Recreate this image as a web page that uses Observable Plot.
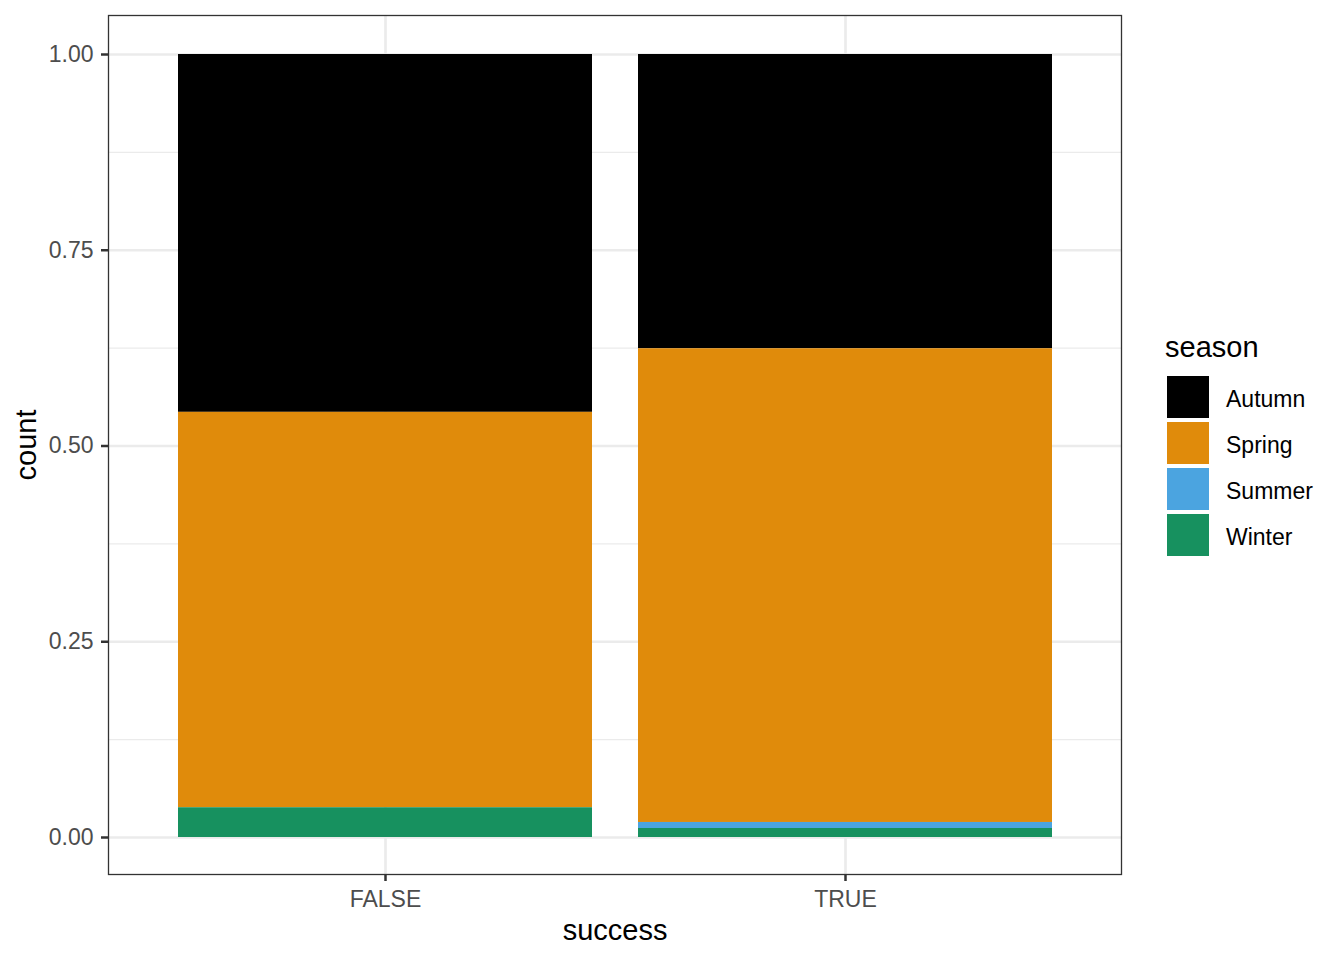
<!DOCTYPE html>
<html>
<head>
<meta charset="utf-8">
<script src="https://cdn.jsdelivr.net/npm/d3@7"></script>
<script src="https://cdn.jsdelivr.net/npm/@observablehq/plot@0.6"></script>
<style>
  html, body { margin: 0; padding: 0; background: #fff; }
  #wrap { position: relative; width: 1344px; height: 960px; font-family: "Liberation Sans", Arial, Helvetica, sans-serif; }
  #legend { position: absolute; left: 1165px; top: 330px; }
  .ltitle { position: absolute; left: 0; top: 0; font-size: 29px; line-height: 34px; color: #000; white-space: nowrap; }
  .lkey { position: absolute; width: 42px; height: 42px; left: 2px; }
  .llab { position: absolute; left: 61px; font-size: 23px; line-height: 42px; color: #000; white-space: nowrap; }
</style>
</head>
<body>
<div id="wrap"><div id="legend"></div></div>
<script>
// categories
const successLevels = ["FALSE", "TRUE"];
const seasons = ["Autumn", "Spring", "Summer", "Winter"];
const seasonColors = ["#000000", "#E08B0B", "#4BA4E0", "#17915F"];
// proportions (position = fill) per success level, in season order
const falseValues = [0.457, 0.505, 0.0, 0.038];
const trueValues = [0.3758, 0.605, 0.0077, 0.0115];
const majorTicks = [0, 0.25, 0.5, 0.75, 1];
const minorTicks = [0.125, 0.375, 0.625, 0.875];
const tickLabels = ["0.00", "0.25", "0.50", "0.75", "1.00"];

const data = [];
seasons.forEach((s, i) => {
  data.push({success: "FALSE", season: s, value: falseValues[i]});
  data.push({success: "TRUE", season: s, value: trueValues[i]});
});

const chart = Plot.plot({
  width: 1344,
  height: 960,
  marginLeft: 108,
  marginRight: 223,
  marginTop: 15,
  marginBottom: 86,
  style: {fontFamily: "Liberation Sans, Arial, Helvetica, sans-serif", fontSize: "23px", background: "#fff"},
  x: {domain: successLevels, paddingInner: 0.1, paddingOuter: 0.15, label: null},
  y: {domain: [-0.04725, 1.04981], label: null},
  color: {domain: seasons, range: seasonColors},
  marks: [
    Plot.gridY(minorTicks, {stroke: "#EBEBEB", strokeOpacity: 1, strokeWidth: 1.3}),
    Plot.gridY(majorTicks, {stroke: "#EBEBEB", strokeOpacity: 1, strokeWidth: 2.7}),
    Plot.gridX(successLevels, {stroke: "#EBEBEB", strokeOpacity: 1, strokeWidth: 2.7}),
    Plot.barY(data, Plot.stackY({
      x: "success",
      y: "value",
      fill: "season",
      order: ["Winter", "Summer", "Spring", "Autumn"]
    })),
    Plot.frame({stroke: "#333333", strokeWidth: 1.3}),
    Plot.axisY(majorTicks, {
      tickSize: 7, tickPadding: 8, strokeWidth: 2.5,
      stroke: "#333333", fill: "#4D4D4D",
      tickFormat: (d) => tickLabels[majorTicks.indexOf(d)],
      label: null
    }),
    Plot.axisX(successLevels, {
      tickSize: 7, tickPadding: 9, strokeWidth: 2.5,
      stroke: "#333333", fill: "#4D4D4D",
      label: null
    }),
    Plot.text(["success"], {frameAnchor: "bottom", dy: 56.5, fontSize: 29, fill: "#000", lineAnchor: "middle", textAnchor: "middle"}),
    Plot.text(["count"], {frameAnchor: "left", dx: -81.5, rotate: -90, fontSize: 29, fill: "#000", lineAnchor: "middle", textAnchor: "middle"})
  ]
});
document.getElementById("wrap").prepend(chart);

// legend
const legend = document.getElementById("legend");
const t = document.createElement("div");
t.className = "ltitle";
t.textContent = "season";
legend.appendChild(t);
seasons.forEach((s, i) => {
  const k = document.createElement("div");
  k.className = "lkey";
  k.style.top = (46 + i * 46) + "px";
  k.style.background = seasonColors[i];
  legend.appendChild(k);
  const l = document.createElement("div");
  l.className = "llab";
  l.style.top = (48 + i * 46) + "px";
  l.textContent = s;
  legend.appendChild(l);
});
</script>
</body>
</html>
